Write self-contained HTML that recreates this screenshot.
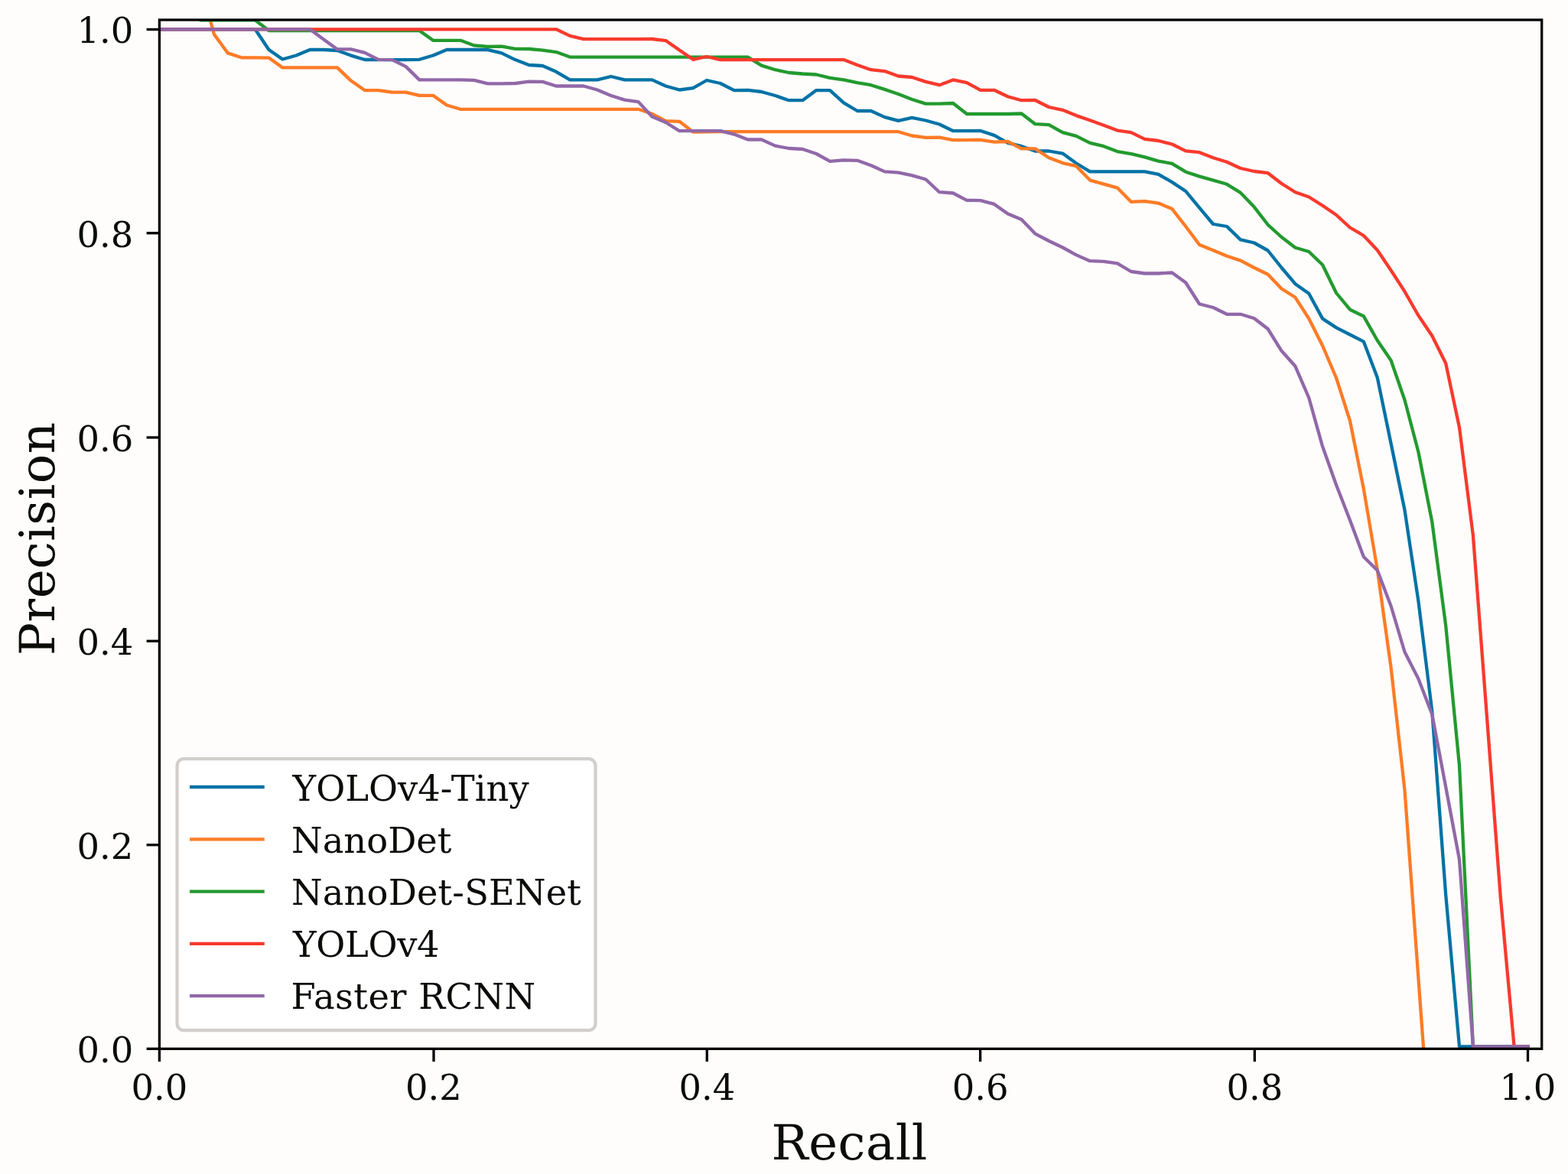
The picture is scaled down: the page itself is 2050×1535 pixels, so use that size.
<!DOCTYPE html>
<html><head><meta charset="utf-8"><title>Precision-Recall</title>
<style>
html,body{margin:0;padding:0;background:#fefdfc;}
body{width:2050px;height:1535px;overflow:hidden;}
svg{display:block;}
text{font-family:'DejaVu Serif', 'Liberation Serif', serif;fill:#0a0c08;}
</style></head>
<body>
<svg width="2050" height="1535" viewBox="0 0 2050 1535">
<rect x="0" y="0" width="2050" height="1535" fill="#fefdfc"/>
<defs><clipPath id="ax"><rect x="208.4" y="26.0" width="1807.3" height="1345.3"/></clipPath></defs>
<g clip-path="url(#ax)" fill="none" stroke-width="4.3" stroke-linejoin="round" stroke-linecap="square">
<polyline points="208.4,38.3 226.3,38.3 244.2,38.3 262.1,38.3 280.0,38.3 297.9,38.3 315.7,38.3 333.6,38.3 351.5,65.0 369.4,77.5 387.3,72.5 405.2,65.0 423.1,65.0 441.0,66.0 458.9,72.6 476.8,78.0 494.7,78.1 512.5,78.1 530.4,78.1 548.3,77.8 566.2,72.5 584.1,65.0 602.0,65.0 619.9,65.0 637.8,65.2 655.7,69.4 673.6,78.1 691.5,85.0 709.3,86.0 727.2,93.8 745.1,104.4 763.0,104.4 780.9,104.4 798.8,100.0 816.7,104.4 834.6,104.4 852.5,104.4 870.4,112.5 888.3,117.5 906.1,115.2 924.0,105.0 941.9,109.0 959.8,118.1 977.7,117.8 995.6,120.0 1013.5,125.0 1031.4,131.2 1049.3,131.2 1067.2,118.1 1085.1,118.1 1103.0,134.4 1120.8,145.0 1138.7,145.0 1156.6,153.1 1174.5,157.8 1192.4,153.8 1210.3,157.5 1228.2,162.5 1246.1,171.2 1264.0,171.2 1281.9,171.0 1299.8,176.9 1317.6,186.9 1335.5,191.2 1353.4,197.5 1371.3,197.5 1389.2,200.6 1407.1,213.5 1425.0,224.4 1442.9,224.4 1460.8,224.4 1478.7,224.4 1496.6,224.4 1514.4,227.8 1532.3,238.1 1550.2,250.0 1568.1,271.6 1586.0,293.0 1603.9,296.0 1621.8,313.4 1639.7,317.5 1657.6,327.5 1675.5,350.0 1693.4,371.2 1711.2,383.8 1729.1,416.6 1747.0,428.4 1764.9,437.5 1782.8,446.6 1800.7,493.5 1818.6,580.0 1836.5,667.0 1854.4,786.0 1872.3,930.0 1890.2,1170.0 1908.0,1368.3 1925.9,1368.3 1943.8,1368.3 1961.7,1368.3 1979.6,1368.3 1997.5,1368.3" stroke="#0272a6"/>
<polyline points="208.4,-20.0 226.3,-20.0 244.2,-20.0 262.1,-20.0 280.0,45.0 297.9,69.4 315.7,75.3 333.6,75.3 351.5,75.6 369.4,88.4 387.3,88.4 405.2,88.4 423.1,88.4 441.0,88.4 458.9,105.6 476.8,118.1 494.7,118.1 512.5,120.6 530.4,120.6 548.3,124.8 566.2,124.8 584.1,137.5 602.0,142.8 619.9,142.8 637.8,142.8 655.7,142.8 673.6,142.8 691.5,142.8 709.3,142.8 727.2,142.8 745.1,142.8 763.0,142.8 780.9,142.8 798.8,142.8 816.7,142.8 834.6,142.8 852.5,148.8 870.4,158.1 888.3,158.8 906.1,172.5 924.0,172.3 941.9,172.2 959.8,172.2 977.7,172.2 995.6,172.2 1013.5,172.2 1031.4,172.2 1049.3,172.2 1067.2,172.2 1085.1,172.2 1103.0,172.2 1120.8,172.2 1138.7,172.2 1156.6,172.2 1174.5,172.2 1192.4,177.5 1210.3,179.9 1228.2,179.6 1246.1,183.1 1264.0,183.1 1281.9,182.8 1299.8,185.6 1317.6,185.0 1335.5,194.4 1353.4,194.4 1371.3,206.2 1389.2,213.1 1407.1,217.2 1425.0,235.6 1442.9,240.6 1460.8,245.6 1478.7,263.8 1496.6,263.1 1514.4,265.6 1532.3,273.1 1550.2,296.0 1568.1,320.0 1586.0,327.2 1603.9,334.7 1621.8,340.6 1639.7,350.0 1657.6,358.8 1675.5,377.5 1693.4,388.8 1711.2,416.5 1729.1,452.0 1747.0,494.0 1764.9,550.0 1782.8,639.0 1800.7,744.5 1818.6,873.0 1836.5,1033.0 1854.4,1279.0 1872.3,1524.0 1890.2,1524.0 1908.0,1524.0 1925.9,1524.0 1943.8,1524.0 1961.7,1524.0 1979.6,1524.0 1997.5,1524.0" stroke="#ff7b26"/>
<polyline points="208.4,11.5 226.3,11.5 244.2,11.5 262.1,26.3 280.0,26.3 297.9,26.3 315.7,26.3 333.6,26.3 351.5,40.0 369.4,40.0 387.3,40.0 405.2,40.0 423.1,40.0 441.0,40.0 458.9,40.0 476.8,40.0 494.7,40.0 512.5,40.0 530.4,40.0 548.3,40.0 566.2,52.8 584.1,52.8 602.0,52.8 619.9,59.4 637.8,61.0 655.7,60.6 673.6,63.8 691.5,64.0 709.3,65.6 727.2,68.1 745.1,74.6 763.0,74.6 780.9,74.6 798.8,74.6 816.7,74.6 834.6,74.6 852.5,74.6 870.4,74.6 888.3,74.6 906.1,74.6 924.0,74.6 941.9,74.6 959.8,74.6 977.7,74.6 995.6,85.6 1013.5,91.2 1031.4,95.0 1049.3,96.5 1067.2,97.5 1085.1,101.9 1103.0,104.4 1120.8,108.1 1138.7,111.2 1156.6,116.9 1174.5,123.0 1192.4,130.0 1210.3,135.6 1228.2,135.6 1246.1,135.0 1264.0,149.0 1281.9,149.0 1299.8,149.0 1317.6,149.0 1335.5,148.5 1353.4,162.2 1371.3,163.1 1389.2,173.1 1407.1,177.8 1425.0,186.9 1442.9,191.2 1460.8,198.1 1478.7,201.2 1496.6,205.4 1514.4,210.6 1532.3,213.8 1550.2,224.7 1568.1,230.6 1586.0,235.6 1603.9,240.8 1621.8,251.9 1639.7,270.6 1657.6,293.8 1675.5,310.0 1693.4,323.8 1711.2,329.0 1729.1,346.2 1747.0,383.0 1764.9,404.7 1782.8,413.4 1800.7,445.0 1818.6,471.2 1836.5,523.0 1854.4,591.0 1872.3,682.5 1890.2,818.0 1908.0,1001.0 1925.9,1368.3 1943.8,1368.3 1961.7,1368.3 1979.6,1368.3 1997.5,1368.3" stroke="#239a2f"/>
<polyline points="208.4,38.3 226.3,38.3 244.2,38.3 262.1,38.3 280.0,38.3 297.9,38.3 315.7,38.3 333.6,38.3 351.5,38.3 369.4,38.3 387.3,38.3 405.2,38.3 423.1,38.3 441.0,38.3 458.9,38.3 476.8,38.3 494.7,38.3 512.5,38.3 530.4,38.3 548.3,38.3 566.2,38.3 584.1,38.3 602.0,38.3 619.9,38.3 637.8,38.3 655.7,38.3 673.6,38.3 691.5,38.3 709.3,38.3 727.2,38.3 745.1,46.9 763.0,51.2 780.9,51.2 798.8,51.2 816.7,51.2 834.6,51.2 852.5,51.0 870.4,53.1 888.3,65.6 906.1,77.8 924.0,74.0 941.9,78.1 959.8,78.1 977.7,78.1 995.6,78.1 1013.5,78.1 1031.4,78.1 1049.3,78.1 1067.2,78.1 1085.1,78.1 1103.0,78.1 1120.8,85.0 1138.7,91.2 1156.6,93.1 1174.5,99.5 1192.4,101.0 1210.3,106.9 1228.2,111.2 1246.1,104.4 1264.0,108.1 1281.9,117.8 1299.8,117.8 1317.6,126.2 1335.5,131.2 1353.4,131.0 1371.3,140.0 1389.2,143.8 1407.1,151.1 1425.0,157.2 1442.9,163.8 1460.8,170.6 1478.7,173.1 1496.6,181.9 1514.4,184.0 1532.3,188.5 1550.2,197.4 1568.1,199.2 1586.0,206.2 1603.9,211.8 1621.8,220.0 1639.7,224.0 1657.6,226.2 1675.5,240.0 1693.4,251.2 1711.2,257.5 1729.1,268.8 1747.0,281.0 1764.9,297.5 1782.8,308.0 1800.7,327.0 1818.6,353.5 1836.5,381.2 1854.4,412.5 1872.3,439.0 1890.2,475.0 1908.0,559.0 1925.9,700.0 1943.8,935.0 1961.7,1172.0 1979.6,1368.3 1997.5,1368.3" stroke="#f83a2d"/>
<polyline points="208.4,38.3 226.3,38.3 244.2,38.3 262.1,38.3 280.0,38.3 297.9,38.3 315.7,38.3 333.6,38.3 351.5,38.3 369.4,38.3 387.3,38.3 405.2,38.3 423.1,51.5 441.0,64.4 458.9,64.4 476.8,68.8 494.7,77.8 512.5,78.1 530.4,86.9 548.3,104.4 566.2,104.4 584.1,104.4 602.0,104.4 619.9,104.8 637.8,109.4 655.7,109.4 673.6,109.0 691.5,106.6 709.3,106.9 727.2,112.5 745.1,112.5 763.0,112.5 780.9,117.5 798.8,125.0 816.7,130.6 834.6,133.1 852.5,152.5 870.4,160.0 888.3,171.2 906.1,171.2 924.0,171.2 941.9,171.2 959.8,175.6 977.7,182.5 995.6,182.5 1013.5,190.6 1031.4,194.0 1049.3,195.0 1067.2,201.0 1085.1,210.9 1103.0,209.4 1120.8,209.8 1138.7,216.2 1156.6,224.4 1174.5,225.6 1192.4,229.4 1210.3,234.5 1228.2,251.2 1246.1,252.5 1264.0,261.9 1281.9,262.1 1299.8,266.9 1317.6,279.4 1335.5,286.9 1353.4,305.6 1371.3,315.0 1389.2,323.5 1407.1,333.4 1425.0,341.2 1442.9,341.9 1460.8,344.4 1478.7,355.0 1496.6,357.5 1514.4,357.5 1532.3,356.5 1550.2,369.5 1568.1,397.5 1586.0,402.0 1603.9,410.8 1621.8,410.8 1639.7,416.2 1657.6,430.0 1675.5,458.8 1693.4,478.8 1711.2,520.0 1729.1,583.8 1747.0,634.0 1764.9,680.0 1782.8,728.0 1800.7,745.6 1818.6,792.5 1836.5,852.5 1854.4,887.5 1872.3,934.0 1890.2,1029.0 1908.0,1124.0 1925.9,1368.3 1943.8,1368.3 1961.7,1368.3 1979.6,1368.3 1997.5,1368.3" stroke="#9168a8"/>
</g>
<g stroke="#000" stroke-width="3.3" fill="none" stroke-linecap="square">
<rect x="208.4" y="26.0" width="1807.3" height="1345.3"/>
</g>
<g stroke="#000" stroke-width="3.3">
<line x1="208.4" y1="1371.3" x2="208.4" y2="1388.1"/>
<line x1="191.6" y1="1371.3" x2="208.4" y2="1371.3"/>
<line x1="567.0" y1="1371.3" x2="567.0" y2="1388.1"/>
<line x1="191.6" y1="1104.7" x2="208.4" y2="1104.7"/>
<line x1="924.3" y1="1371.3" x2="924.3" y2="1388.1"/>
<line x1="191.6" y1="838.2" x2="208.4" y2="838.2"/>
<line x1="1281.6" y1="1371.3" x2="1281.6" y2="1388.1"/>
<line x1="191.6" y1="572.0" x2="208.4" y2="572.0"/>
<line x1="1640.3" y1="1371.3" x2="1640.3" y2="1388.1"/>
<line x1="191.6" y1="304.8" x2="208.4" y2="304.8"/>
<line x1="1997.5" y1="1371.3" x2="1997.5" y2="1388.1"/>
<line x1="191.6" y1="38.5" x2="208.4" y2="38.5"/>
</g>
<g font-size="46.4">
<text x="208.4" y="1437.7" text-anchor="middle">0.0</text>
<text x="174.4" y="1389.1" text-anchor="end">0.0</text>
<text x="567.0" y="1437.7" text-anchor="middle">0.2</text>
<text x="174.4" y="1122.5" text-anchor="end">0.2</text>
<text x="924.3" y="1437.7" text-anchor="middle">0.4</text>
<text x="174.4" y="856.0" text-anchor="end">0.4</text>
<text x="1281.6" y="1437.7" text-anchor="middle">0.6</text>
<text x="174.4" y="589.8" text-anchor="end">0.6</text>
<text x="1640.3" y="1437.7" text-anchor="middle">0.8</text>
<text x="174.4" y="322.6" text-anchor="end">0.8</text>
<text x="1997.5" y="1437.7" text-anchor="middle">1.0</text>
<text x="174.4" y="56.3" text-anchor="end">1.0</text>
</g>
<text x="1110.6" y="1516" font-size="64" letter-spacing="0.55" text-anchor="middle">Recall</text>
<text transform="translate(70.6,704.3) rotate(-90)" font-size="64" letter-spacing="0.5" text-anchor="middle">Precision</text>
<rect x="231.5" y="992.2" width="547" height="355" rx="9" ry="9" fill="#ffffff" fill-opacity="0.8" stroke="#d2cecb" stroke-width="4.2"/>
<g font-size="46.4">
<line x1="250.2" y1="1029.0" x2="343.6" y2="1029.0" stroke="#0272a6" stroke-width="4.3" stroke-linecap="square"/>
<text x="382.6" y="1047.4">YOLOv4-Tiny</text>
<line x1="250.2" y1="1097.3" x2="343.6" y2="1097.3" stroke="#ff7b26" stroke-width="4.3" stroke-linecap="square"/>
<text x="381.1" y="1115.3">NanoDet</text>
<line x1="250.2" y1="1165.6" x2="343.6" y2="1165.6" stroke="#239a2f" stroke-width="4.3" stroke-linecap="square"/>
<text x="381.1" y="1183.2" letter-spacing="0.13">NanoDet-SENet</text>
<line x1="250.2" y1="1233.9" x2="343.6" y2="1233.9" stroke="#f83a2d" stroke-width="4.3" stroke-linecap="square"/>
<text x="382.9" y="1251.1" letter-spacing="-0.30">YOLOv4</text>
<line x1="250.2" y1="1302.2" x2="343.6" y2="1302.2" stroke="#9168a8" stroke-width="4.3" stroke-linecap="square"/>
<text x="380.5" y="1319.0" letter-spacing="0.45">Faster RCNN</text>
</g>
</svg>
</body></html>
